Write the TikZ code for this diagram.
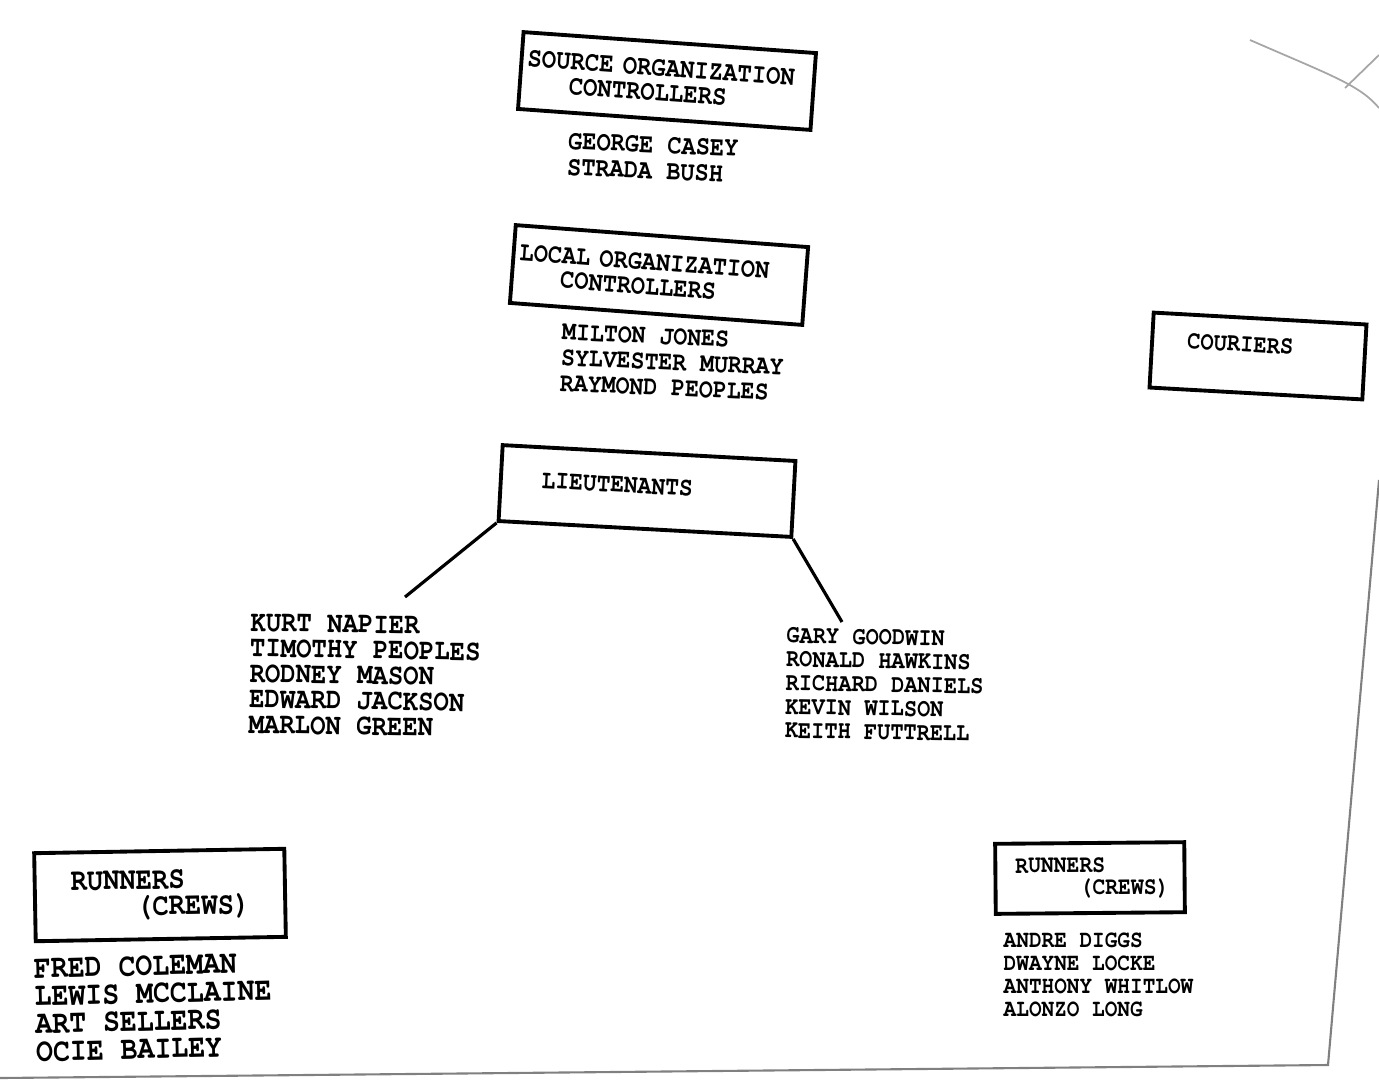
\documentclass[tikz,border=0pt]{standalone}
\usepackage{fontspec}
\usepackage{tikz}
\usetikzlibrary{positioning}
\newfontfamily\typer[FakeStretch=0.862]{texgyrecursor-bold.otf}

\begin{document}
\begin{tikzpicture}[x=0.01cm, y=-0.01cm,
    box/.style={draw, line width=1.1pt, inner ysep=0pt, align=left},
    tw/.style 2 args={font=\typer\fontsize{#1}{#2}\selectfont},
    names/.style={inner sep=0pt, anchor=north west, align=left}]
    \useasboundingbox (0,0) rectangle (1379,1084);

    % Controllers
    \node[box, tw={7.9}{7.0}, inner xsep=0.06cm, text width=2.81cm,
          minimum height=0.77cm, rotate=-4.1] (source) at (667,81)
          {SOURCE ORGANIZATION\\\phantom{SOU}CONTROLLERS};
    \node[names, tw={7.8}{7.4}, rotate=-2.5] (sourcenames) at (568,132)
          {GEORGE CASEY\\STRADA BUSH};

    \node[box, tw={7.8}{7.0}, inner xsep=0.06cm, text width=2.81cm,
          minimum height=0.78cm, rotate=-4.3] (local) at (659,275)
          {LOCAL ORGANIZATION\\\phantom{LOC}CONTROLLERS};
    \node[names, tw={7.65}{7.3}, rotate=-2.5] (localnames) at (562,323)
          {MILTON JONES\\SYLVESTER MURRAY\\RAYMOND PEOPLES};

    % Couriers
    \node[box, tw={7.3}{7.0}, inner xsep=0.35cm, text width=1.43cm,
          text depth=0.22cm, minimum height=0.75cm, rotate=-3.2] (couriers) at (1258,356)
          {COURIERS};

    % Lieutenants
    \node[box, tw={7.55}{7.0}, inner xsep=0.41cm, text width=2.11cm,
          text depth=0.1cm, minimum height=0.76cm, rotate=-3.1] (lieut) at (647,491)
          {LIEUTENANTS};
    \node[names, tw={8.45}{7.25}, rotate=-1] (leftnames) at (250,613)
          {KURT NAPIER\\TIMOTHY PEOPLES\\RODNEY MASON\\EDWARD JACKSON\\MARLON GREEN};
    \node[names, tw={7.25}{6.75}, rotate=-1] (rightnames) at (786,627)
          {GARY GOODWIN\\RONALD HAWKINS\\RICHARD DANIELS\\KEVIN WILSON\\KEITH FUTTRELL};
    \coordinate (leftend) at (405,597);
    \coordinate (rightend) at (842,622);
    \draw[line width=0.9pt] (lieut.south west) -- (leftend);
    \draw[line width=0.9pt] (lieut.south east) -- (rightend);

    % Runners
    \node[box, tw={8.95}{7.4}, inner xsep=0.36cm, text width=1.78cm,
          minimum height=0.88cm, rotate=1] (runnersa) at (160,895)
          {RUNNERS\\\phantom{RUNN}(CREWS)};
    \node[names, tw={9.3}{7.9}, rotate=1.5] (runnersanames) at (33,958)
          {FRED COLEMAN\\LEWIS MCCLAINE\\ART SELLERS\\OCIE BAILEY};

    \node[box, tw={7.05}{6.3}, inner xsep=0.2cm, text width=1.49cm,
          minimum height=0.70cm, rotate=0.5] (runnersb) at (1090,878)
          {RUNNERS\\\phantom{RUNNE}(CREWS)};
    \node[names, tw={6.95}{6.6}] (runnersbnames) at (1003,932)
          {ANDRE DIGGS\\DWAYNE LOCKE\\ANTHONY WHITLOW\\ALONZO LONG};

    % Page edges
    \draw[gray, line width=0.6pt] (1379,480) -- (1328,1065) -- (0,1078);
    \draw[gray!70, line width=0.5pt] (1250,40) .. controls (1330,75) and (1360,85) .. (1379,108);
    \draw[gray!70, line width=0.5pt] (1345,88) -- (1379,55);
\end{tikzpicture}
\end{document}
